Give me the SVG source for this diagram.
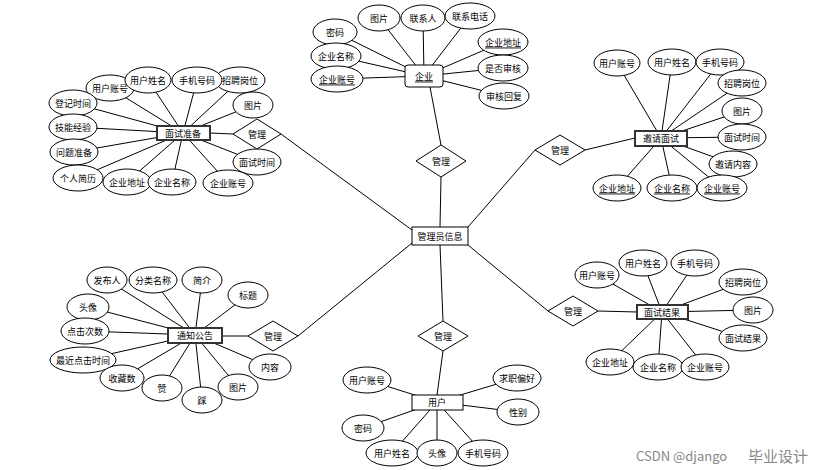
<svg xmlns="http://www.w3.org/2000/svg" width="822" height="470" viewBox="0 0 822 470">
<style>
text{font-family:"Noto Sans CJK SC","Liberation Sans",sans-serif;font-size:9px;fill:#000;text-anchor:middle;dominant-baseline:central}
ellipse{fill:#fff;stroke:#000;stroke-width:1}
.box{fill:#fff;stroke:#000;stroke-width:1}
.bx2{fill:#fff;stroke:#333;stroke-width:2}
.dia{fill:#fff;stroke:#000;stroke-width:1}
#connectors line{stroke:#000;stroke-width:1}
.wm{fill:#888;font-size:13px;text-anchor:start}
</style>
<rect width="822" height="470" fill="#fff"/>
<g id="connectors">
<!-- main -->
<line x1="430" y1="87" x2="441" y2="145"/><line x1="441" y1="177" x2="440" y2="227"/>
<line x1="281" y1="134" x2="412" y2="230"/><line x1="210" y1="133" x2="233" y2="134"/>
<line x1="298" y1="336" x2="412" y2="243"/><line x1="222" y1="336" x2="248" y2="336"/>
<line x1="535" y1="150" x2="468" y2="227"/><line x1="585" y1="150" x2="635" y2="138"/>
<line x1="548" y1="311" x2="468" y2="245"/><line x1="598" y1="311" x2="637" y2="312"/>
<line x1="443" y1="321" x2="440" y2="245"/><line x1="443" y1="351" x2="437" y2="395"/>
<!-- 企业 -->
<line x1="424" y1="76" x2="335" y2="32"/><line x1="424" y1="76" x2="379" y2="18"/><line x1="424" y1="76" x2="423" y2="18"/><line x1="424" y1="76" x2="470" y2="16"/>
<line x1="424" y1="76" x2="336" y2="56"/><line x1="424" y1="76" x2="337" y2="79"/><line x1="424" y1="76" x2="503" y2="42"/><line x1="424" y1="76" x2="503" y2="68"/><line x1="424" y1="76" x2="504" y2="96"/>
<!-- 面试准备 -->
<line x1="183" y1="133" x2="110" y2="88"/><line x1="183" y1="133" x2="148" y2="80"/><line x1="183" y1="133" x2="197" y2="80"/><line x1="183" y1="133" x2="240" y2="80"/>
<line x1="183" y1="133" x2="73" y2="103"/><line x1="183" y1="133" x2="253" y2="105"/><line x1="183" y1="133" x2="73" y2="127"/><line x1="183" y1="133" x2="74" y2="152"/>
<line x1="183" y1="133" x2="257" y2="162"/><line x1="183" y1="133" x2="78" y2="178"/><line x1="183" y1="133" x2="127" y2="182"/><line x1="183" y1="133" x2="172" y2="182"/><line x1="183" y1="133" x2="228" y2="183"/>
<!-- 通知公告 -->
<line x1="195" y1="335" x2="107" y2="280"/><line x1="195" y1="335" x2="153" y2="280"/><line x1="195" y1="335" x2="202" y2="280"/><line x1="195" y1="335" x2="248" y2="295"/>
<line x1="195" y1="335" x2="88" y2="307"/><line x1="195" y1="335" x2="85" y2="331"/><line x1="195" y1="335" x2="83" y2="360"/><line x1="195" y1="335" x2="122" y2="378"/>
<line x1="195" y1="335" x2="162" y2="388"/><line x1="195" y1="335" x2="202" y2="400"/><line x1="195" y1="335" x2="238" y2="387"/><line x1="195" y1="335" x2="270" y2="367"/>
<!-- 邀请面试 -->
<line x1="661" y1="138" x2="617" y2="63"/><line x1="661" y1="138" x2="672" y2="62"/><line x1="661" y1="138" x2="720" y2="62"/><line x1="661" y1="138" x2="742" y2="83"/>
<line x1="661" y1="138" x2="742" y2="111"/><line x1="661" y1="138" x2="742" y2="137"/><line x1="661" y1="138" x2="733" y2="164"/>
<line x1="661" y1="138" x2="617" y2="188"/><line x1="661" y1="138" x2="672" y2="188"/><line x1="661" y1="138" x2="722" y2="188"/>
<!-- 面试结果 -->
<line x1="662" y1="312" x2="597" y2="275"/><line x1="662" y1="312" x2="643" y2="263"/><line x1="662" y1="312" x2="695" y2="263"/><line x1="662" y1="312" x2="743" y2="282"/>
<line x1="662" y1="312" x2="753" y2="310"/><line x1="662" y1="312" x2="743" y2="338"/>
<line x1="662" y1="312" x2="610" y2="362"/><line x1="662" y1="312" x2="658" y2="367"/><line x1="662" y1="312" x2="705" y2="367"/>
<!-- 用户 -->
<line x1="437" y1="402" x2="367" y2="380"/><line x1="437" y1="402" x2="517" y2="378"/><line x1="437" y1="402" x2="518" y2="412"/><line x1="437" y1="402" x2="363" y2="428"/>
<line x1="437" y1="402" x2="392" y2="453"/><line x1="437" y1="402" x2="437" y2="453"/><line x1="437" y1="402" x2="483" y2="453"/>
</g>

<g id="admin"><rect class="box" x="412" y="227" width="56" height="18"/><text x="440" y="236">管理员信息</text></g>

<g id="rel-company"><polygon class="dia" points="441,145 466,161 441,177 416,161"/><text x="441" y="161">管理</text></g>
<g id="rel-prep"><polygon class="dia" points="257,119 281,134 257,149 233,134"/><text x="257" y="134">管理</text></g>
<g id="rel-notice"><polygon class="dia" points="273,321 298,336 273,351 248,336"/><text x="273" y="336">管理</text></g>
<g id="rel-invite"><polygon class="dia" points="560,135 585,150 560,165 535,150"/><text x="560" y="150">管理</text></g>
<g id="rel-result"><polygon class="dia" points="573,296 598,311 573,326 548,311"/><text x="573" y="311">管理</text></g>
<g id="rel-user"><polygon class="dia" points="443,321 468,336 443,351 418,336"/><text x="443" y="336">管理</text></g>

<g id="company">
<rect class="box" x="405" y="65" width="38" height="22" rx="3"/><text x="424" y="76" text-decoration="underline">企业</text>
<ellipse cx="335" cy="32" rx="22" ry="13"/><text x="335" y="32">密码</text>
<ellipse cx="379" cy="18" rx="21" ry="13"/><text x="379" y="18">图片</text>
<ellipse cx="423" cy="18" rx="22" ry="13"/><text x="423" y="18">联系人</text>
<ellipse cx="470" cy="16" rx="25" ry="13"/><text x="470" y="16">联系电话</text>
<ellipse cx="336" cy="56" rx="25" ry="13"/><text x="336" y="56">企业名称</text>
<ellipse cx="337" cy="79" rx="26" ry="13"/><text x="337" y="79" text-decoration="underline">企业账号</text>
<ellipse cx="503" cy="42" rx="25" ry="13"/><text x="503" y="42" text-decoration="underline">企业地址</text>
<ellipse cx="503" cy="68" rx="25" ry="13"/><text x="503" y="68">是否审核</text>
<ellipse cx="504" cy="96" rx="25" ry="13"/><text x="504" y="96">审核回复</text>
</g>

<g id="prep">
<rect class="bx2" x="157" y="126" width="53" height="14"/><text x="183" y="133">面试准备</text>
<ellipse cx="110" cy="88" rx="24" ry="13"/><text x="110" y="88">用户账号</text>
<ellipse cx="148" cy="80" rx="23" ry="13"/><text x="148" y="80">用户姓名</text>
<ellipse cx="240" cy="80" rx="25" ry="13"/><text x="240" y="80">招聘岗位</text>
<ellipse cx="197" cy="80" rx="25" ry="13"/><text x="197" y="80">手机号码</text>
<ellipse cx="73" cy="103" rx="24" ry="13"/><text x="73" y="103">登记时间</text>
<ellipse cx="253" cy="105" rx="20" ry="13"/><text x="253" y="105">图片</text>
<ellipse cx="73" cy="127" rx="24" ry="13"/><text x="73" y="127">技能经验</text>
<ellipse cx="74" cy="152" rx="24" ry="13"/><text x="74" y="152">问题准备</text>
<ellipse cx="257" cy="162" rx="24" ry="13"/><text x="257" y="162">面试时间</text>
<ellipse cx="78" cy="178" rx="25" ry="13"/><text x="78" y="178">个人简历</text>
<ellipse cx="127" cy="182" rx="24" ry="13"/><text x="127" y="182">企业地址</text>
<ellipse cx="172" cy="182" rx="24" ry="13"/><text x="172" y="182">企业名称</text>
<ellipse cx="228" cy="183" rx="25" ry="13"/><text x="228" y="183">企业账号</text>
</g>

<g id="notice">
<rect class="bx2" x="168" y="328" width="54" height="15"/><text x="195" y="335">通知公告</text>
<ellipse cx="107" cy="280" rx="20" ry="13"/><text x="107" y="280">发布人</text>
<ellipse cx="153" cy="280" rx="24" ry="13"/><text x="153" y="280">分类名称</text>
<ellipse cx="202" cy="280" rx="20" ry="13"/><text x="202" y="280">简介</text>
<ellipse cx="248" cy="295" rx="20" ry="13"/><text x="248" y="295">标题</text>
<ellipse cx="88" cy="307" rx="21" ry="13"/><text x="88" y="307">头像</text>
<ellipse cx="85" cy="331" rx="24" ry="13"/><text x="85" y="331">点击次数</text>
<ellipse cx="83" cy="360" rx="33" ry="13"/><text x="83" y="360">最近点击时间</text>
<ellipse cx="122" cy="378" rx="22" ry="13"/><text x="122" y="378">收藏数</text>
<ellipse cx="162" cy="388" rx="20" ry="13"/><text x="162" y="388">赞</text>
<ellipse cx="202" cy="400" rx="20" ry="13"/><text x="202" y="400">踩</text>
<ellipse cx="238" cy="387" rx="20" ry="13"/><text x="238" y="387">图片</text>
<ellipse cx="270" cy="367" rx="21" ry="13"/><text x="270" y="367">内容</text>
</g>

<g id="invite">
<rect class="bx2" x="635" y="131" width="52" height="15"/><text x="661" y="138">邀请面试</text>
<ellipse cx="617" cy="63" rx="23" ry="13"/><text x="617" y="63">用户账号</text>
<ellipse cx="672" cy="62" rx="24" ry="13"/><text x="672" y="62">用户姓名</text>
<ellipse cx="720" cy="62" rx="24" ry="13"/><text x="720" y="62">手机号码</text>
<ellipse cx="742" cy="83" rx="24" ry="13"/><text x="742" y="83">招聘岗位</text>
<ellipse cx="742" cy="111" rx="20" ry="13"/><text x="742" y="111">图片</text>
<ellipse cx="742" cy="137" rx="24" ry="13"/><text x="742" y="137">面试时间</text>
<ellipse cx="733" cy="164" rx="24" ry="13"/><text x="733" y="164">邀请内容</text>
<ellipse cx="617" cy="188" rx="24" ry="13"/><text x="617" y="188" text-decoration="underline">企业地址</text>
<ellipse cx="672" cy="188" rx="25" ry="13"/><text x="672" y="188" text-decoration="underline">企业名称</text>
<ellipse cx="722" cy="188" rx="25" ry="13"/><text x="722" y="188" text-decoration="underline">企业账号</text>
</g>

<g id="result">
<rect class="bx2" x="637" y="305" width="51" height="14"/><text x="662" y="312">面试结果</text>
<ellipse cx="597" cy="275" rx="22" ry="13"/><text x="597" y="275">用户账号</text>
<ellipse cx="643" cy="263" rx="24" ry="13"/><text x="643" y="263">用户姓名</text>
<ellipse cx="695" cy="263" rx="24" ry="13"/><text x="695" y="263">手机号码</text>
<ellipse cx="743" cy="282" rx="24" ry="13"/><text x="743" y="282">招聘岗位</text>
<ellipse cx="753" cy="310" rx="20" ry="13"/><text x="753" y="310">图片</text>
<ellipse cx="743" cy="338" rx="24" ry="13"/><text x="743" y="338">面试结果</text>
<ellipse cx="610" cy="362" rx="24" ry="13"/><text x="610" y="362">企业地址</text>
<ellipse cx="658" cy="367" rx="25" ry="13"/><text x="658" y="367">企业名称</text>
<ellipse cx="705" cy="367" rx="24" ry="13"/><text x="705" y="367">企业账号</text>
</g>

<g id="user">
<rect class="box" x="412" y="395" width="51" height="15"/><text x="437" y="402">用户</text>
<ellipse cx="367" cy="380" rx="24" ry="13"/><text x="367" y="380">用户账号</text>
<ellipse cx="517" cy="378" rx="24" ry="13"/><text x="517" y="378">求职偏好</text>
<ellipse cx="518" cy="412" rx="21" ry="13"/><text x="518" y="412">性别</text>
<ellipse cx="363" cy="428" rx="21" ry="13"/><text x="363" y="428">密码</text>
<ellipse cx="392" cy="453" rx="26" ry="13"/><text x="392" y="453">用户姓名</text>
<ellipse cx="437" cy="453" rx="20" ry="13"/><text x="437" y="453">头像</text>
<ellipse cx="483" cy="453" rx="25" ry="13"/><text x="483" y="453">手机号码</text>
</g>

<text class="wm" x="636" y="455">CSDN @django</text>
<text class="wm" x="748" y="455" style="font-size:15px">毕业设计</text>
</svg>
